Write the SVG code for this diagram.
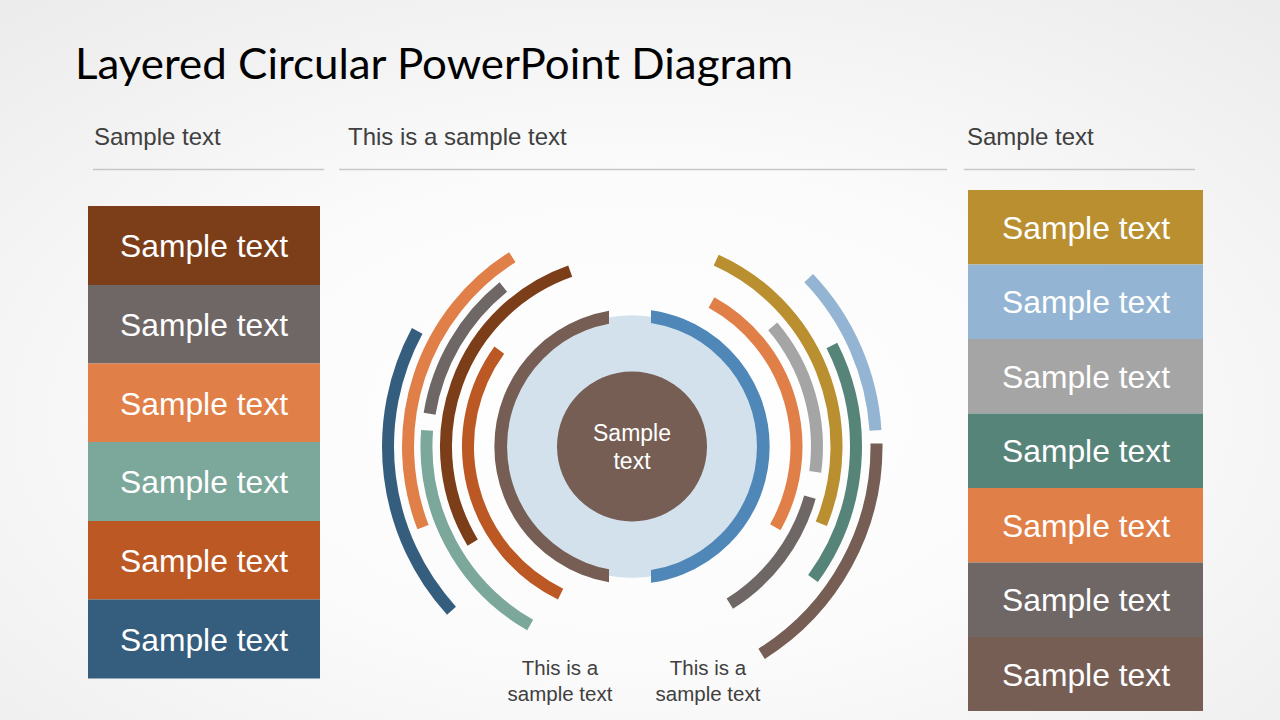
<svg xmlns="http://www.w3.org/2000/svg" width="1280" height="720" viewBox="0 0 1280 720">
<defs>
<radialGradient id="bg" cx="50%" cy="58%" r="75%">
<stop offset="0" stop-color="#FFFFFF"/>
<stop offset="0.45" stop-color="#FBFBFB"/>
<stop offset="1" stop-color="#ECECEC"/>
</radialGradient>
<clipPath id="clipL"><rect x="0" y="0" width="609" height="720"/></clipPath>
<clipPath id="clipR"><rect x="651" y="0" width="629" height="720"/></clipPath>
<style>
.hdr{font-family:"Liberation Sans",Arial,sans-serif;font-size:24px;fill:#404040}
.rule{stroke:#C8C8C8;stroke-width:1.3}
.box{font-family:"Liberation Sans",Arial,sans-serif;font-size:30.5px;fill:#FFFFFF;text-anchor:middle}
.lbl{font-family:"Liberation Sans",Arial,sans-serif;font-size:20.5px;fill:#404040;text-anchor:middle}
.arc{fill:none;stroke-width:12;stroke-linecap:butt}
</style>
</defs>
<rect width="1280" height="720" fill="url(#bg)"/>
<text x="75" y="79" font-family="Lato,'Open Sans',sans-serif" font-size="43" fill="#000000" textLength="718" lengthAdjust="spacingAndGlyphs">Layered Circular PowerPoint Diagram</text>

<g id="headers">
<text class="hdr" x="94" y="145">Sample text</text>
<text class="hdr" x="348" y="145">This is a sample text</text>
<text class="hdr" x="967" y="145">Sample text</text>
<line class="rule" x1="93" y1="169.5" x2="324" y2="169.5"/>
<line class="rule" x1="339" y1="169.5" x2="947" y2="169.5"/>
<line class="rule" x1="964" y1="169.5" x2="1195" y2="169.5"/>
</g>

<g id="left-boxes">
<g id="L1"><rect x="88" y="206" width="232" height="79" fill="#7B3E19"/><text class="box" x="204" y="257" textLength="168" lengthAdjust="spacingAndGlyphs">Sample text</text></g>
<g id="L2"><rect x="88" y="285" width="232" height="78.5" fill="#6F6766"/><text class="box" x="204" y="336" textLength="168" lengthAdjust="spacingAndGlyphs">Sample text</text></g>
<g id="L3"><rect x="88" y="363.5" width="232" height="78.5" fill="#E07F47"/><text class="box" x="204" y="414.5" textLength="168" lengthAdjust="spacingAndGlyphs">Sample text</text></g>
<g id="L4"><rect x="88" y="442" width="232" height="79" fill="#7BA89A"/><text class="box" x="204" y="493" textLength="168" lengthAdjust="spacingAndGlyphs">Sample text</text></g>
<g id="L5"><rect x="88" y="521" width="232" height="78.5" fill="#BC5824"/><text class="box" x="204" y="571.5" textLength="168" lengthAdjust="spacingAndGlyphs">Sample text</text></g>
<g id="L6"><rect x="88" y="599.5" width="232" height="79" fill="#355D7D"/><text class="box" x="204" y="650.5" textLength="168" lengthAdjust="spacingAndGlyphs">Sample text</text></g>
</g>

<g id="right-boxes">
<g id="R1"><rect x="968" y="190" width="235" height="74.5" fill="#B98F30"/><text class="box" x="1086" y="238.5" textLength="168" lengthAdjust="spacingAndGlyphs">Sample text</text></g>
<g id="R2"><rect x="968" y="264.5" width="235" height="74.5" fill="#93B5D3"/><text class="box" x="1086" y="313" textLength="168" lengthAdjust="spacingAndGlyphs">Sample text</text></g>
<g id="R3"><rect x="968" y="339" width="235" height="74.5" fill="#A5A5A5"/><text class="box" x="1086" y="387.5" textLength="168" lengthAdjust="spacingAndGlyphs">Sample text</text></g>
<g id="R4"><rect x="968" y="413.5" width="235" height="74.5" fill="#578478"/><text class="box" x="1086" y="462" textLength="168" lengthAdjust="spacingAndGlyphs">Sample text</text></g>
<g id="R5"><rect x="968" y="488" width="235" height="74.5" fill="#E07F47"/><text class="box" x="1086" y="536.5" textLength="168" lengthAdjust="spacingAndGlyphs">Sample text</text></g>
<g id="R6"><rect x="968" y="562.5" width="235" height="74.5" fill="#6F6766"/><text class="box" x="1086" y="611" textLength="168" lengthAdjust="spacingAndGlyphs">Sample text</text></g>
<g id="R7"><rect x="968" y="637" width="235" height="74" fill="#765E55"/><text class="box" x="1086" y="685.5" textLength="168" lengthAdjust="spacingAndGlyphs">Sample text</text></g>
</g>

<g id="core">
<circle cx="632" cy="446.5" r="131.2" fill="#D3E1EC"/>
<circle cx="632" cy="446.5" r="131.3" fill="none" stroke="#765E55" stroke-width="12.7" clip-path="url(#clipL)"/>
<circle cx="632" cy="446.5" r="131.3" fill="none" stroke="#4F87B8" stroke-width="12.7" clip-path="url(#clipR)"/>
<circle cx="632" cy="446.5" r="75" fill="#765E55"/>
<text x="632" y="441" font-family="'Liberation Sans',Arial,sans-serif" font-size="23" fill="#FFFFFF" text-anchor="middle">Sample</text>
<text x="632" y="469" font-family="'Liberation Sans',Arial,sans-serif" font-size="23" fill="#FFFFFF" text-anchor="middle">text</text>
</g>

<g id="arcs">
<path class="arc" stroke="#355D7D" d="M451.5 610.7 A244 244 0 0 1 417.2 330.8"/>
<path class="arc" stroke="#E07F47" d="M423.0 527.1 A224 224 0 0 1 512.3 257.2"/>
<path class="arc" stroke="#6F6766" d="M429.6 413.7 A205 205 0 0 1 503.3 287.0"/>
<path class="arc" stroke="#7BA89A" d="M530.2 625.0 A205.5 205.5 0 0 1 427.1 430.4"/>
<path class="arc" stroke="#7B3E19" d="M472.7 542.6 A186 186 0 0 1 570.2 271.1"/>
<path class="arc" stroke="#BC5824" d="M560.6 594.1 A164 164 0 0 1 499.3 350.1"/>
<path class="arc" stroke="#B98F30" d="M716.2 260.1 A204.5 204.5 0 0 1 821.3 523.8"/>
<path class="arc" stroke="#93B5D3" d="M808.7 278.2 A244 244 0 0 1 875.5 430.3"/>
<path class="arc" stroke="#E07F47" d="M711.5 302.5 A164.5 164.5 0 0 1 775.3 527.3"/>
<path class="arc" stroke="#A5A5A5" d="M772.7 326.4 A185 185 0 0 1 815.2 471.9"/>
<path class="arc" stroke="#6F6766" d="M809.9 497.2 A185 185 0 0 1 729.8 603.6"/>
<path class="arc" stroke="#578478" d="M831.9 345.5 A224 224 0 0 1 813.0 578.5"/>
<path class="arc" stroke="#765E55" d="M876.5 443.5 A244.5 244.5 0 0 1 761.6 653.8"/>
</g>

<g id="bottom-labels">
<text class="lbl" x="560" y="675">This is a</text>
<text class="lbl" x="560" y="701">sample text</text>
<text class="lbl" x="708" y="675">This is a</text>
<text class="lbl" x="708" y="701">sample text</text>
</g>
</svg>
